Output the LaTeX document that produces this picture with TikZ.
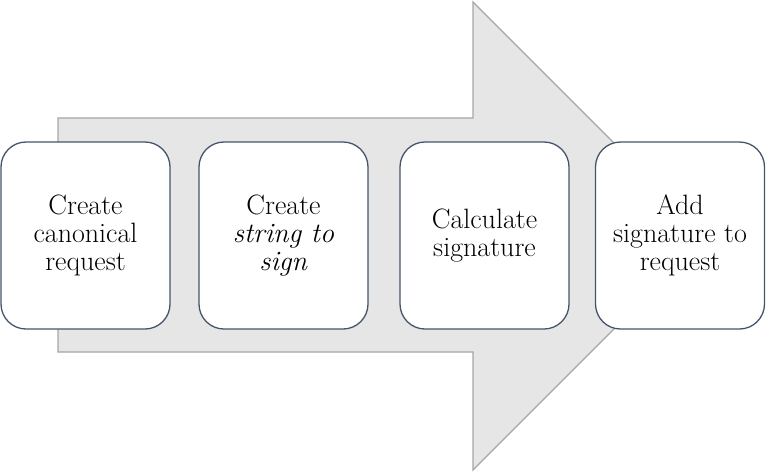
\documentclass[tikz,border=0pt]{standalone}
\usepackage{fontspec}
\begin{document}
\begin{tikzpicture}[x=1pt,y=-1pt,
  stepbox/.style={draw=boxline, line width=1.3pt, fill=white, rounded corners=25pt,
    minimum width=169pt, minimum height=187pt, inner sep=0pt, outer sep=0pt,
    align=center, font=\fontsize{28}{28}\selectfont},
  bigarrow/.style={fill=arrowfill, draw=arrowline, line width=1.3pt, line join=miter}]
\definecolor{boxline}{HTML}{44546A}
\definecolor{arrowfill}{HTML}{E6E6E6}
\definecolor{arrowline}{HTML}{A6A6A6}
\useasboundingbox (0,0) rectangle (768,472);
\coordinate (a1) at (58,118);
\coordinate (a2) at (473,118);
\coordinate (a3) at (473,2);
\coordinate (tip) at (707,236);
\coordinate (a5) at (473,470);
\coordinate (a6) at (473,352);
\coordinate (a7) at (58,352);
\draw[bigarrow] (a1) -- (a2) -- (a3) -- (tip) -- (a5) -- (a6) -- (a7) -- cycle;
\node[stepbox] (s1) at (85.5,235.5) {Create\\canonical\\request};
\node[stepbox] (s2) at (283.5,235.5) {Create\\\textit{string to}\\\textit{sign}};
\node[stepbox] (s3) at (484.5,235.5) {Calculate\\signature};
\node[stepbox] (s4) at (680,235.5) {Add\\signature to\\request};
\end{tikzpicture}
\end{document}
